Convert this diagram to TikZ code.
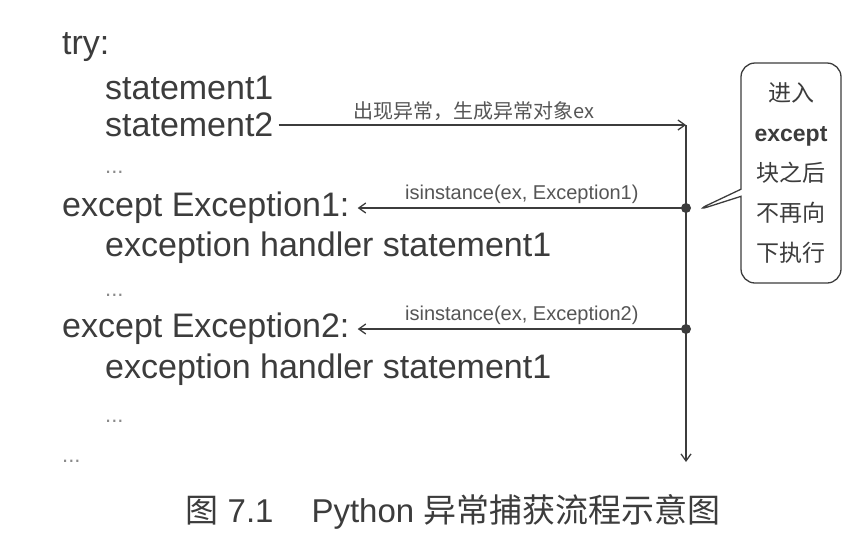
\documentclass[tikz,border=0pt]{standalone}
\usepackage{fontspec}
\setmainfont{Liberation Sans}
\newfontfamily\cjk{Noto Sans CJK SC}
\usepackage{xcolor}
\usetikzlibrary{arrows.meta,positioning,shapes.callouts}
\definecolor{ink}{HTML}{3C3C3C}
\definecolor{lbl}{HTML}{555555}
\definecolor{dim}{HTML}{8A8A8A}

\begin{document}
\begin{tikzpicture}[x=1pt,y=-1pt,>={Straight Barb[length=7pt,width=10pt]},
  code/.style={anchor=west,inner sep=0pt,text=ink,font=\fontsize{34}{40}\selectfont},
  dots/.style={anchor=west,inner sep=0pt,text=dim,font=\fontsize{22}{24}\selectfont},
  lab/.style={above,inner sep=4pt,text=lbl,font=\cjk\fontsize{20}{22}\selectfont},
  flow/.style={draw=ink,line width=1.3pt}]
  \useasboundingbox (0,0) rectangle (854,539);
  % the try / except listing
  \node[code] (try) at (62,47) {try:};
  \node[code] (s1) at (105,88) {statement1};
  \node[code] (s2) at (105,125) {statement2};
  \node[dots] (g1) at (105,172) {...};
  \node[code] (ex1) at (62,208) {except Exception1:};
  \node[code] (h1) at (105,248) {exception handler statement1};
  \node[dots] (g2) at (105,295) {...};
  \node[code] (ex2) at (62,329) {except Exception2:};
  \node[code] (h2) at (105,370) {exception handler statement1};
  \node[dots] (g3) at (105,421) {...};
  \node[dots] (g4) at (62,461) {...};
  % the flow on the right
  \coordinate (rail) at (686,0);
  \coordinate (top) at (s2.east -| rail);
  \coordinate (bot) at (686,462);
  \coordinate (d1) at (ex1.east -| rail);
  \coordinate (d2) at (ex2.east -| rail);
  \draw[flow,->] ([xshift=5pt]s2.east) -- (top)
    node[lab,midway,xshift=-8pt] {出现异常，生成异常对象ex};
  \draw[flow,->] (top) -- (bot);
  \draw[flow,->] (d1) -- ([xshift=8pt]ex1.east)
    node[lab,midway,font=\fontsize{20}{22}\selectfont] {isinstance(ex, Exception1)};
  \draw[flow,->] (d2) -- ([xshift=8pt]ex2.east)
    node[lab,midway,font=\fontsize{20}{22}\selectfont] {isinstance(ex, Exception2)};
  \fill[ink] (d1) circle (5pt);
  \fill[ink] (d2) circle (5pt);
  % the note
  \node[rectangle callout,draw=ink,line width=1.3pt,rounded corners=14pt,
    minimum width=100pt,minimum height=220pt,inner sep=0pt,
    callout absolute pointer={(695,211)},align=center,text=ink,
    font=\cjk\fontsize{23}{40}\selectfont] (note) at (791,173)
    {进入\\{\normalfont\bfseries\fontsize{23}{40}\selectfont except}\\块之后\\不再向\\下执行};
  % caption
  \node[text=ink,font=\fontsize{33}{36}\selectfont] (cap) at (453,512)
    {{\cjk 图}\ 7.1\hspace{38pt}Python {\cjk 异常捕获流程示意图}};
\end{tikzpicture}
\end{document}
